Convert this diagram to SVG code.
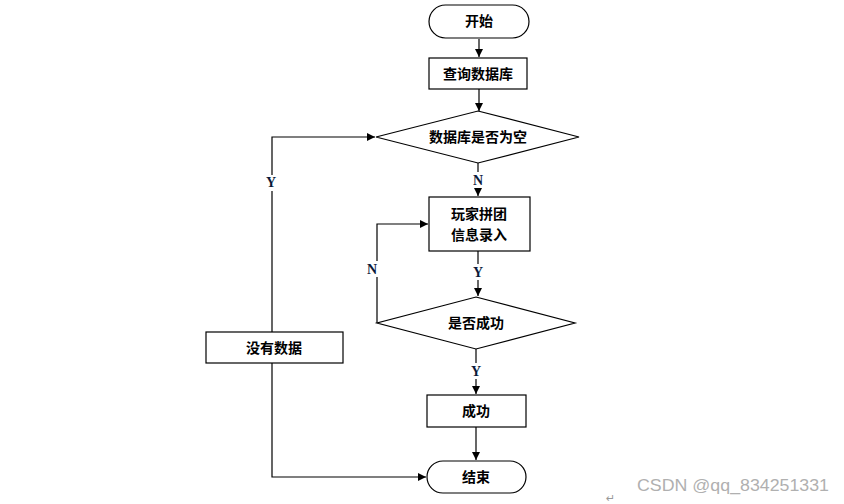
<svg xmlns="http://www.w3.org/2000/svg" width="844" height="504" viewBox="0 0 844 504">
<style>
.s{fill:#fff;stroke:#000;stroke-width:1.2}
.t{font-family:"Noto Sans CJK SC","Noto Sans CJK JP",sans-serif;font-size:14px;font-weight:bold;fill:#000;text-anchor:middle}
.l{font-family:"Liberation Serif",serif;font-size:14px;font-weight:bold;fill:#0a1a3a;text-anchor:middle}
.c{fill:none;stroke:#000;stroke-width:1.2}
.w{font-family:"Liberation Sans",Arial,sans-serif;font-size:17px;fill:#b0b0b0}
</style>
<defs>
<marker id="a" viewBox="0 0 10 10" refX="10" refY="5" markerWidth="8" markerHeight="8" markerUnits="userSpaceOnUse" orient="auto"><path d="M0,0 L10,5 L0,10 z" fill="#000"/></marker>
</defs>
<rect width="844" height="504" fill="#fff"/>
<g id="connectors">
<path class="c" d="M479,39 V57" marker-end="url(#a)"/>
<path class="c" d="M479,89 V111" marker-end="url(#a)"/>
<path class="c" d="M478,163 V196" marker-end="url(#a)"/>
<path class="c" d="M478,251 V296" marker-end="url(#a)"/>
<path class="c" d="M377,323 V224 H428" marker-end="url(#a)"/>
<path class="c" d="M476,349 V394" marker-end="url(#a)"/>
<path class="c" d="M476,427 V460" marker-end="url(#a)"/>
<path class="c" d="M272,332 V137 H375" marker-end="url(#a)"/>
<path class="c" d="M272,363 V477 H426" marker-end="url(#a)"/>
<rect x="470" y="172" width="16" height="16" fill="#fff"/>
<text class="l" x="478" y="185">N</text>
<rect x="470" y="264" width="16" height="16" fill="#fff"/>
<text class="l" x="478" y="277">Y</text>
<rect x="364" y="261" width="16" height="16" fill="#fff"/>
<text class="l" x="372" y="274">N</text>
<rect x="468" y="363" width="16" height="16" fill="#fff"/>
<text class="l" x="476" y="376">Y</text>
<rect x="263" y="175" width="16" height="16" fill="#fff"/>
<text class="l" x="271" y="187">Y</text>
</g>
<g id="start"><rect class="s" x="429" y="5" width="100" height="33" rx="16.5"/><text class="t" x="479" y="26">开始</text></g>
<g id="query"><rect class="s" x="429" y="58" width="98" height="31"/><text class="t" x="478" y="79">查询数据库</text></g>
<g id="empty"><path class="s" d="M478,111 L579,137 L478,163 L376,137 Z"/><text class="t" x="478" y="142">数据库是否为空</text></g>
<g id="input"><rect class="s" x="429" y="197" width="101" height="54"/><text class="t" x="479" y="219">玩家拼团</text><text class="t" x="479" y="240">信息录入</text></g>
<g id="success-q"><path class="s" d="M476,297 L575,323 L476,349 L377,323 Z"/><text class="t" x="476" y="328">是否成功</text></g>
<g id="success"><rect class="s" x="427" y="395" width="99" height="32"/><text class="t" x="476" y="416">成功</text></g>
<g id="nodata"><rect class="s" x="206" y="332" width="137" height="31"/><text class="t" x="274" y="353">没有数据</text></g>
<g id="end"><rect class="s" x="427" y="461" width="99" height="32" rx="16"/><text class="t" x="476" y="482">结束</text></g>
<text class="w" x="637" y="491" textLength="192" lengthAdjust="spacingAndGlyphs">CSDN @qq_834251331</text>
<text x="606" y="502" font-family="DejaVu Sans,sans-serif" font-size="11" fill="#999">↵</text>
</svg>
